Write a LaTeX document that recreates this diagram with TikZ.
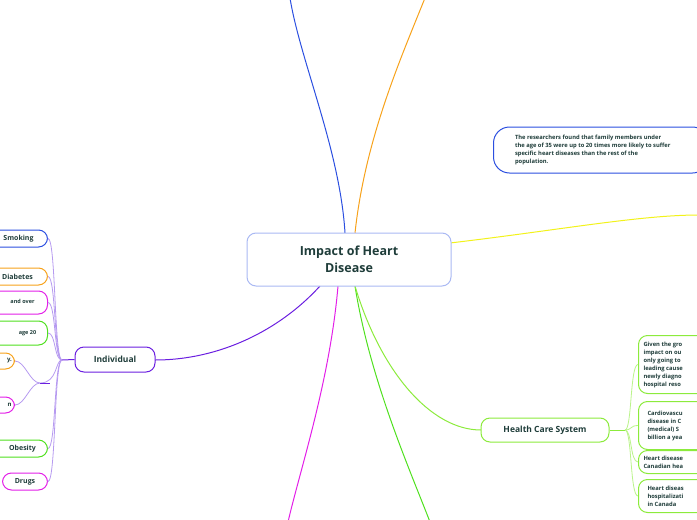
\documentclass[tikz,border=0pt]{standalone}
\usepackage{fontspec}
\setmainfont{Open Sans}
\begin{document}
\begin{tikzpicture}[x=1pt,y=-1pt,
 bx/.style={draw,line width=1pt,rounded corners=9pt,fill=white,inner sep=0pt,text=txt,font=\bfseries},
 ln/.style={line width=1pt}]
\definecolor{txt}{HTML}{1F3D3A}
\definecolor{kb}{HTML}{2B4FE0}\definecolor{ko}{HTML}{F7A21B}\definecolor{ky}{HTML}{F2F21A}
\definecolor{kl}{HTML}{8CEB3C}\definecolor{kg}{HTML}{4FE01E}\definecolor{km}{HTML}{E31FE8}
\definecolor{kp}{HTML}{6B1FE0}\definecolor{klp}{HTML}{B69AF0}
\useasboundingbox (0,0) rectangle (697,520);
\clip (0,0) rectangle (697,520);
\coordinate (t1) at (290,-2);\coordinate (t2) at (425,-2);\coordinate (r1) at (699,215);
\coordinate (b1) at (288,522);\coordinate (b2) at (430,522);
\draw[ln,kb] (345,233) .. controls (340,150) and (300,60) .. (t1);
\draw[ln,ko] (355,233) .. controls (365,140) and (400,60) .. (t2);
\draw[ln,ky] (450,243) .. controls (560,230) and (640,215) .. (r1);
\draw[ln,km] (338,286) .. controls (330,380) and (300,470) .. (b1);
\draw[ln,kg] (355,286) .. controls (370,380) and (410,470) .. (b2);
\draw[ln,kl] (355,286) .. controls (380,370) and (430,430) .. (481,430);
\draw[ln,kp] (320,286) .. controls (280,330) and (220,360) .. (155,360);
\node[bx,draw=kb!40,minimum width=204pt,minimum height=53pt,align=center,font=\bfseries\fontsize{12.5}{17}\selectfont] (c) at (349,259.5) {Impact of Heart\\Disease};
% individual
\node[bx,draw=kp,minimum width=80pt,minimum height=25pt,font=\bfseries\fontsize{8.5}{10}\selectfont] (ind) at (115,359.5) {Individual};
\coordinate (h) at (62,360);
\draw[ln,kp] (ind.west) -- (h);
\node[bx,draw=kb,minimum width=80pt,minimum height=17pt,anchor=east,font=\bfseries\fontsize{7}{8}\selectfont] (n1) at (48,238.5) {\hspace*{22pt}Smoking};
\node[bx,draw=ko,minimum width=80pt,minimum height=17pt,anchor=east,font=\bfseries\fontsize{7}{8}\selectfont] (n2) at (48,276.5) {\hspace*{20pt}Diabetes};
\node[bx,draw=km,minimum width=80pt,minimum height=23pt,anchor=east,font=\bfseries\fontsize{5.5}{7}\selectfont] (n3) at (48,302.5) {\hspace*{30pt}and over\\[-2pt]\strut};
\node[bx,draw=kg,minimum width=80pt,minimum height=24pt,anchor=east,font=\bfseries\fontsize{5.5}{7}\selectfont] (n4) at (48,333) {\hspace*{40pt}age 20};
\node[bx,draw=ko,minimum width=60pt,minimum height=16pt,anchor=east,font=\bfseries\fontsize{6}{7}\selectfont] (n5) at (15,361) {\hspace*{50pt}y.};
\node[bx,draw=km,minimum width=60pt,minimum height=16pt,anchor=east,font=\bfseries\fontsize{6}{7}\selectfont] (n6) at (15,405) {\hspace*{50pt}n};
\node[bx,draw=kg,minimum width=80pt,minimum height=17pt,anchor=east,font=\bfseries\fontsize{7}{8}\selectfont] (n7) at (48,448.5) {\hspace*{30pt}Obesity};
\node[bx,draw=km,minimum width=45pt,minimum height=17pt,anchor=east,font=\bfseries\fontsize{7}{8}\selectfont] (n8) at (48,481.5) {Drugs};
\coordinate (sb) at (40,383);
\foreach \n in {n1,n2,n3,n4,n7,n8}{\draw[klp,line width=0.8pt] (h) .. controls (54,360) and (56,0|-\n.east) .. (\n.east);}
\draw[klp,line width=0.8pt] (h) .. controls (55,360) and (58,383) .. (sb);
\draw[kp,line width=1pt] (sb) -- ++(10,0);
\foreach \n in {n5,n6}{\draw[klp,line width=0.8pt] (sb) .. controls (30,383) and (25,0|-\n.east) .. (\n.east);}
% researchers
\node[bx,draw=kb,rounded corners=16pt,minimum width=215pt,minimum height=46pt,anchor=west] (rs) at (493,150) {\hspace*{18pt}\begin{minipage}{190pt}\bfseries\fontsize{5.8}{8.3}\selectfont The researchers found that family members under\\the age of 35 were up to 20 times more likely to suffer\\specific heart diseases than the rest of the\\population.\end{minipage}};
% health care
\node[bx,draw=kl,minimum width=128pt,minimum height=24pt,font=\bfseries\fontsize{8.5}{10}\selectfont] (hc) at (545,430) {Health Care System};
\coordinate (hh) at (625,430);
\draw[ln,kl] (hc.east) -- (hh);
\node[bx,draw=kl,minimum width=90pt,minimum height=58pt,anchor=north west] (h1) at (638,335) {\begin{minipage}{80pt}\bfseries\fontsize{5.8}{8}\selectfont Given the gro\\impact on ou\\only going to\\leading cause\\newly diagno\\hospital reso\end{minipage}};
\node[bx,draw=kl,minimum width=90pt,minimum height=48pt,anchor=north west] (h2) at (638,401) {\begin{minipage}{80pt}\bfseries\fontsize{5.8}{8}\selectfont\hspace*{4pt}Cardiovascu\\\hspace*{4pt}disease in C\\\hspace*{4pt}(medical) S\\\hspace*{4pt}billion a yea\end{minipage}};
\node[bx,draw=kl,minimum width=90pt,minimum height=23pt,anchor=north west] (h3) at (638,450) {\begin{minipage}{80pt}\bfseries\fontsize{5.8}{8}\selectfont Heart disease\\Canadian hea\end{minipage}};
\node[bx,draw=kl,minimum width=90pt,minimum height=33pt,anchor=north west] (h4) at (638,479) {\begin{minipage}{80pt}\bfseries\fontsize{5.8}{8}\selectfont\hspace*{4pt}Heart diseas\\\hspace*{4pt}hospitalizati\\\hspace*{4pt}in Canada\end{minipage}};
\foreach \n in {h1,h2,h3,h4}{\draw[kl!60,line width=0.8pt] (hh) .. controls (632,430) and (630,0|-\n.west) .. (\n.west);}
\end{tikzpicture}
\end{document}
